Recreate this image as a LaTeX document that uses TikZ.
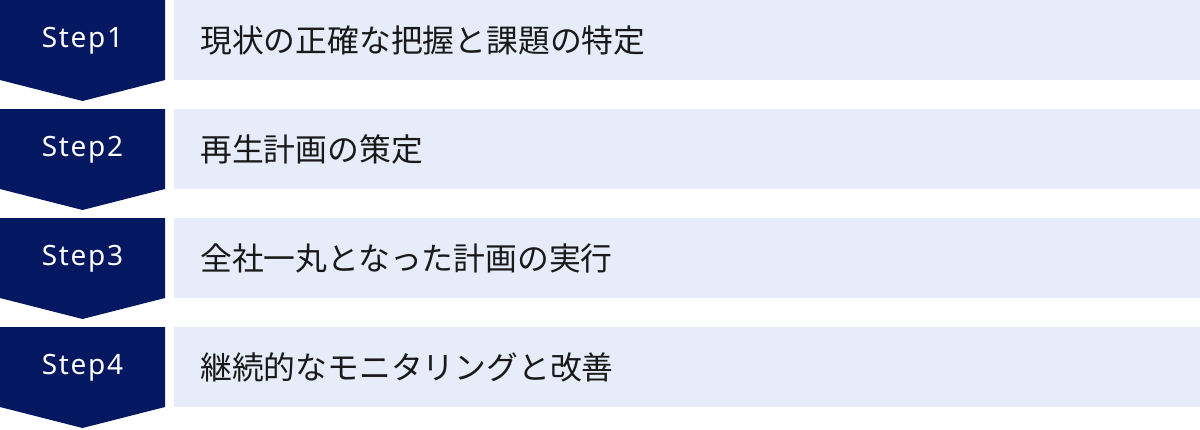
\documentclass[tikz,border=0pt]{standalone}
\usepackage{fontspec}
\setmainfont{Noto Sans CJK JP}
\newfontfamily\stepfont[LetterSpace=6]{Noto Sans}
\definecolor{navy}{HTML}{041862}
\definecolor{hell}{HTML}{E6ECF9}
\tikzset{
  steplabel/.style={text=white,inner sep=0pt,font=\stepfont\fontsize{28}{28}\selectfont},
  tasklabel/.style={text=black!90,anchor=west,inner sep=0pt,font=\fontsize{31.8}{32}\selectfont}
}
\begin{document}
\begin{tikzpicture}[x=1pt,y=-1pt]
  \useasboundingbox (0,0) rectangle (1200,429);
  % Die vier Schritte
  \foreach \nr/\txt [count=\i from 0] in {1/現状の正確な把握と課題の特定,2/再生計画の策定,3/全社一丸となった計画の実行,4/継続的なモニタリングと改善}
  {
   % Pfeil nach unten
   \fill[navy] (0,109*\i) -- ++(165,0) -- ++(0,80) -- ++(-82.5,21) -- ++(-82.5,-21) -- cycle;
   \node[steplabel] (s\nr) at (82.5,109*\i+41) {Step\nr};
   % Feld mit Text
   \fill[hell] (174,109*\i) rectangle (1200,109*\i+80);
   \node[tasklabel] (t\nr) at (200,109*\i+40) {\txt};
  }
\end{tikzpicture}
\end{document}
